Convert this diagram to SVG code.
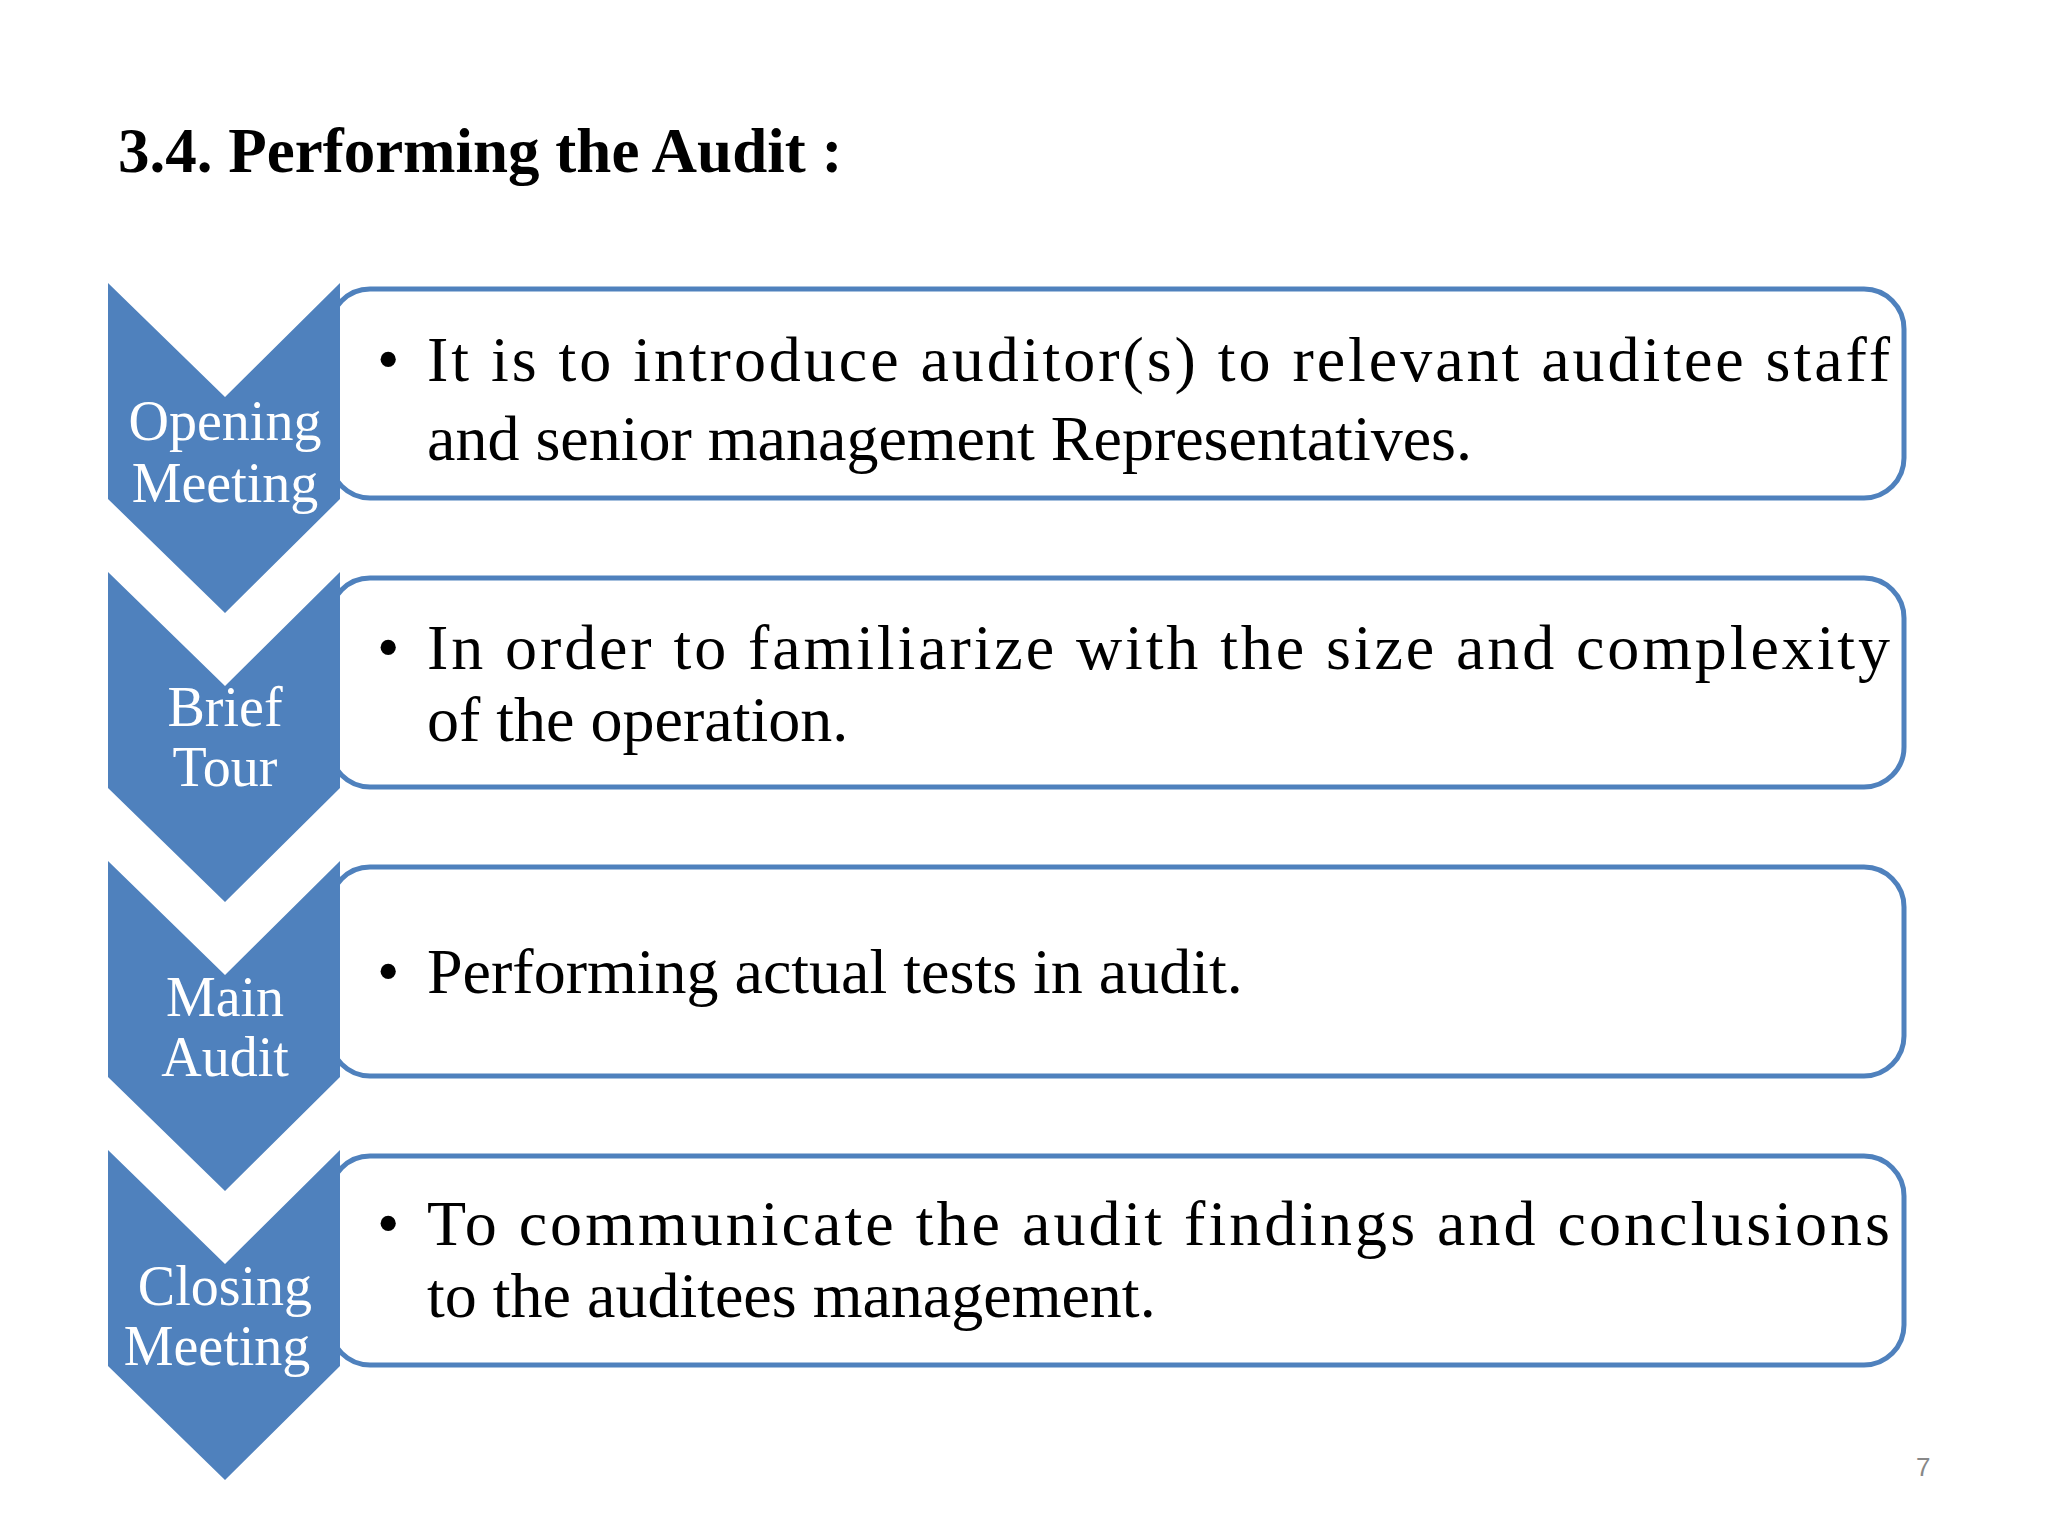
<svg xmlns="http://www.w3.org/2000/svg" width="2048" height="1536" viewBox="0 0 2048 1536">
<style>
.box{fill:#fff;stroke:#4F81BD;stroke-width:5}
.chev{fill:#4F81BD}
.lbl{font-family:"Liberation Serif",serif;font-size:56px;fill:#fff;text-anchor:middle}
.txt{font-family:"Liberation Serif",serif;font-size:64px;fill:#000}
</style>
<rect width="2048" height="1536" fill="#fff"/>
<text x="118" y="172" font-family="Liberation Serif,serif" font-size="63" font-weight="bold">3.4. Performing the Audit :</text>
<g id="n1">
<rect class="box" x="330" y="289" width="1574" height="209" rx="40"/>
<path class="chev" d="M108 283 L225 397 L340 283 L340 499 L225 613 L108 499 Z"/>
<text class="lbl" x="225" y="440">Opening</text><text class="lbl" x="225" y="502">Meeting</text>
<text class="txt" x="377" y="381">•</text>
<text class="txt" x="427" y="381" textLength="1463" lengthAdjust="spacing">It is to introduce auditor(s) to relevant auditee staff</text>
<text class="txt" x="427" y="460">and senior management Representatives.</text>
</g>
<g id="n2">
<rect class="box" x="330" y="578" width="1574" height="209" rx="40"/>
<path class="chev" d="M108 572 L225 686 L340 572 L340 788 L225 902 L108 788 Z"/>
<text class="lbl" x="225" y="726">Brief</text><text class="lbl" x="225" y="786">Tour</text>
<text class="txt" x="377" y="669">•</text>
<text class="txt" x="427" y="669" textLength="1463" lengthAdjust="spacing">In order to familiarize with the size and complexity</text>
<text class="txt" x="427" y="741">of the operation.</text>
</g>
<g id="n3">
<rect class="box" x="330" y="867" width="1574" height="209" rx="40"/>
<path class="chev" d="M108 861 L225 975 L340 861 L340 1077 L225 1191 L108 1077 Z"/>
<text class="lbl" x="225" y="1016">Main</text><text class="lbl" x="225" y="1076">Audit</text>
<text class="txt" x="377" y="993">•</text>
<text class="txt" x="427" y="993">Performing actual tests in audit.</text>
</g>
<g id="n4">
<rect class="box" x="330" y="1156" width="1574" height="209" rx="40"/>
<path class="chev" d="M108 1150 L225 1264 L340 1150 L340 1366 L225 1480 L108 1366 Z"/>
<text class="lbl" x="225" y="1305">Closing</text><text class="lbl" x="217" y="1365">Meeting</text>
<text class="txt" x="377" y="1245">•</text>
<text class="txt" x="427" y="1245" textLength="1463" lengthAdjust="spacing">To communicate the audit findings and conclusions</text>
<text class="txt" x="427" y="1317">to the auditees management.</text>
</g>
<g id="connectors"/>
<text x="1916" y="1476" font-family="Liberation Sans,sans-serif" font-size="26" fill="#888">7</text>
</svg>
